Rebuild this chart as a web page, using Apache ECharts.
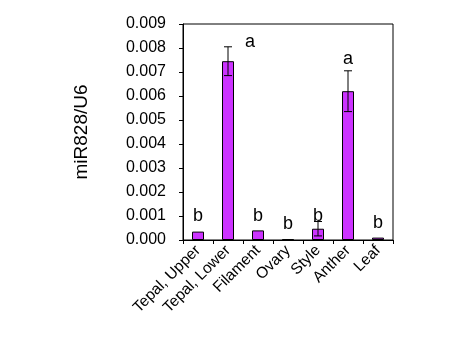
<!DOCTYPE html>
<html>
<head>
<meta charset="utf-8">
<script src="https://cdn.jsdelivr.net/npm/echarts@6/dist/echarts.min.js"></script>
<style>
html,body{margin:0;padding:0;background:#fff;}
#chart{width:474px;height:350px;}
</style>
</head>
<body>
<div id="chart"></div>
<script>
var categories = ['Tepal, Upper', 'Tepal, Lower', 'Filament', 'Ovary', 'Style', 'Anther', 'Leaf'];
var values = [0.00035, 0.00745, 0.0004, 0.00003, 0.00047, 0.0062, 0.0001];
var errors = [0, 0.0006, 0, 0, 0.0003, 0.00085, 0];
var letters = ['b', 'a', 'b', 'b', 'b', 'a', 'b'];
var letterY = [0.00075, 0.0080, 0.00075, 0.00042, 0.00075, 0.0073, 0.00046];
var yTicks = { min: 0, max: 0.009, interval: 0.001 };
var yName = 'miR828/U6';

var letterDx = [0, 22, 0, 0, 0, 0, 0];

var chart = echarts.init(document.getElementById('chart'), null, { renderer: 'canvas' });
var font = 'Liberation Sans, Arial, sans-serif';

chart.setOption({
  animation: false,
  backgroundColor: '#fff',
  grid: { left: 183, right: 81, top: 24, bottom: 110, show: true, borderColor: '#000', borderWidth: 1, backgroundColor: 'transparent' },
  xAxis: {
    type: 'category',
    data: categories,
    axisLine: { lineStyle: { color: '#000', width: 1 } },
    axisTick: { show: true, length: 4, lineStyle: { color: '#000' } },
    axisLabel: { interval: 0, rotate: 45, color: '#000', fontSize: 15.5, fontFamily: font, margin: 8 }
  },
  yAxis: {
    type: 'value',
    min: yTicks.min, max: yTicks.max, interval: yTicks.interval,
    name: yName,
    nameLocation: 'middle',
    nameGap: 92,
    nameTextStyle: { color: '#000', fontSize: 19, fontFamily: font },
    axisLine: { show: true, lineStyle: { color: '#000', width: 1 } },
    axisTick: { show: true, length: 4, lineStyle: { color: '#000' } },
    splitLine: { show: false },
    axisLabel: { color: '#000', fontSize: 16, fontFamily: font, margin: 17, formatter: function (v) { return v.toFixed(3); } }
  },
  series: [
    {
      type: 'bar',
      data: values,
      barWidth: 12,
      itemStyle: { color: '#cc33ff', borderColor: '#000', borderWidth: 1 }
    },
    {
      type: 'custom',
      data: values.map(function (v, i) { return [i, v, errors[i]]; }),
      renderItem: function (params, api) {
        var i = api.value(0), v = api.value(1), e = api.value(2);
        if (!e) return null;
        var top = api.coord([i, v + e]);
        var bot = api.coord([i, v - e]);
        var hw = 4;
        var st = { stroke: '#000', lineWidth: 1 };
        return {
          type: 'group',
          children: [
            { type: 'line', shape: { x1: top[0], y1: top[1], x2: bot[0], y2: bot[1] }, style: st },
            { type: 'line', shape: { x1: top[0] - hw, y1: top[1], x2: top[0] + hw, y2: top[1] }, style: st },
            { type: 'line', shape: { x1: bot[0] - hw, y1: bot[1], x2: bot[0] + hw, y2: bot[1] }, style: st }
          ]
        };
      },
      z: 5
    },
    {
      type: 'custom',
      data: letterY.map(function (y, i) { return [i, y]; }),
      renderItem: function (params, api) {
        var i = api.value(0);
        var p = api.coord([i, api.value(1)]);
        return {
          type: 'text',
          style: {
            text: letters[params.dataIndex],
            x: p[0] + letterDx[params.dataIndex],
            y: p[1] + 3,
            textAlign: 'center',
            textVerticalAlign: 'bottom',
            font: '18px ' + font,
            fill: '#000'
          }
        };
      },
      z: 6
    }
  ]
});
</script>
</body>
</html>
